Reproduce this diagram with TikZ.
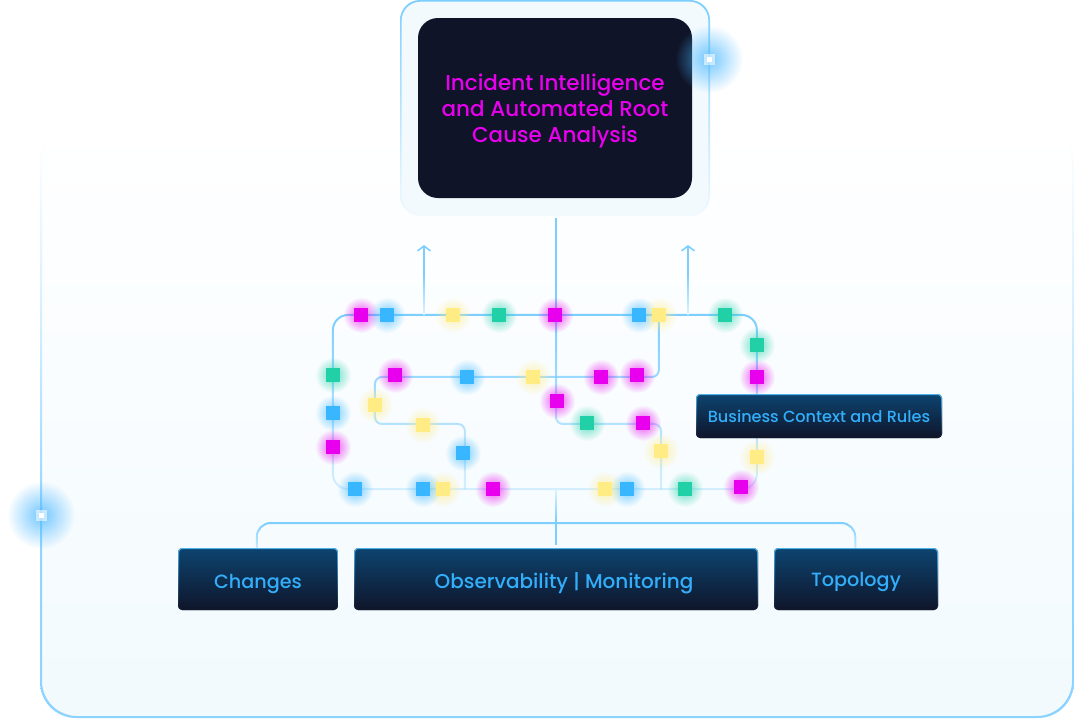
\documentclass[tikz,border=0pt]{standalone}
\usepackage{fontspec}
\setmainfont{Poppins Medium}
\usetikzlibrary{fadings,arrows.meta,calc,backgrounds}
\definecolor{lineblue}{HTML}{7CCEFF}
\definecolor{palelink}{HTML}{D8F1FF}
\definecolor{panelfill}{HTML}{F2FAFE}
\definecolor{darkbox}{HTML}{0F1428}
\definecolor{boxtop}{HTML}{0D4470}
\definecolor{boxbot}{HTML}{0F152A}
\definecolor{boxedge}{HTML}{4DB2EC}
\definecolor{labelblue}{HTML}{33AEFA}
\definecolor{sqmag}{HTML}{E800EE}
\definecolor{sqblue}{HTML}{38B6FF}
\definecolor{sqyel}{HTML}{FFEC85}
\definecolor{sqgrn}{HTML}{22D0A8}
\definecolor{glowblue}{HTML}{4DB8FF}
\tikzfading[name=softglow, inner color=transparent!30, outer color=transparent!100]
\tikzfading[name=bigglow, inner color=transparent!22, outer color=transparent!100]
\tikzfading[name=netfade, top color=transparent!0, bottom color=transparent!72]
\tikzfading[name=uppernet, top color=transparent!0, bottom color=transparent!65]
\pgfdeclareverticalshading{ringshade}{100bp}{color(0bp)=(lineblue!88); color(25bp)=(lineblue!88); color(42bp)=(lineblue!85); color(58bp)=(lineblue!35); color(74bp)=(white); color(100bp)=(white)}
\pgfdeclarelayer{panel}
\pgfdeclarelayer{wires}
\pgfdeclarelayer{glows}
\pgfsetlayers{panel,wires,glows,main}
\tikzset{
  wire/.style={draw=lineblue, line width=2pt},
  sqnode/.style={minimum size=14pt, inner sep=0pt, outer sep=0pt, fill=#1},
  tagbox/.style={rounded corners=4pt, inner sep=0pt, outer sep=0pt, anchor=north west,
     top color=boxtop, bottom color=boxbot,
     text=labelblue, font=\fontsize{19.2}{24}\selectfont},
  arrowtip/.style={-{Straight Barb[length=5pt,width=13pt,line width=1.5pt]}}
}
\newcommand{\sqr}[4]{%
  \begin{pgfonlayer}{glows}
    \fill[#2, path fading=softglow] (#3,#4) circle[radius=18pt];
  \end{pgfonlayer}
  \node[sqnode=#2] (#1) at (#3,#4) {};}
\newcommand{\gradwire}[4]{%
  \foreach \i in {0,...,11}{%
    \pgfmathsetmacro{\ta}{\i/12}\pgfmathsetmacro{\tb}{(\i+1)/12}\pgfmathsetmacro{\pc}{100*\i/11}%
    \draw[draw={#4!\pc!#3}, line width=2pt] ($(#1)!\ta!(#2)$) -- ($(#1)!\tb!(#2)$);}}
\newcommand{\edgering}[1]{%
  \shade[top color=boxedge, bottom color=boxbot, even odd rule]
    [rounded corners=4pt] (#1.north west) rectangle (#1.south east)
    [rounded corners=3.2pt] ($(#1.north west)+(1,1)$) rectangle ($(#1.south east)+(-1,-1)$);}
\begin{document}
\begin{tikzpicture}[x=1pt,y=-1pt]
\useasboundingbox (0,0) rectangle (1074,718);
% outer panel
\begin{pgfonlayer}{panel}
  \shade[top color=white, bottom color=panelfill, rounded corners=36pt] (41,125) rectangle (1073,717);
  \shade[shading=ringshade, even odd rule]
     [rounded corners=36pt] (40,125) rectangle (1074,718)
     [rounded corners=35pt] (42,127) rectangle (1072,716);
\end{pgfonlayer}
% title
\shade[rounded corners=20pt, top color=panelfill, bottom color=panelfill] (400.5,0.5) rectangle (709.5,215.5);
\shade[top color=lineblue, middle color=lineblue, bottom color=panelfill, even odd rule]
   [rounded corners=20pt] (400,0) rectangle (710,216)
   [rounded corners=19pt] (401.6,1.6) rectangle (708.4,214.4);
\node[fill=darkbox, rounded corners=20pt, minimum width=274pt, minimum height=180pt, inner sep=0pt, outer sep=0pt,
      text=sqmag, align=center, font=\fontsize{21.5}{26}\selectfont] (title) at (555,108)
      {\rule{0pt}{23pt}Incident Intelligence\\and Automated Root\\Cause Analysis};
% boxes
\node[tagbox, minimum width=160pt, minimum height=62pt, text height=23pt, text depth=5pt] (changes) at (178,548) {Changes};
\node[tagbox, minimum width=404pt, minimum height=62pt, text height=23pt, text depth=5pt, font=\fontsize{20}{24}\selectfont] (obs) at (354,548) {\hspace*{16pt}Observability | Monitoring};
\node[tagbox, minimum width=164pt, minimum height=62pt, text height=21pt, text depth=7pt] (topo) at (774,548) {Topology};
\node[tagbox, minimum width=246pt, minimum height=44pt, font=\fontsize{16.1}{20}\selectfont] (biz) at (696,394) {Business Context and Rules};
\edgering{changes}\edgering{obs}\edgering{topo}\edgering{biz}
% squares
\sqr{a1}{sqmag}{361}{315}\sqr{a2}{sqblue}{387}{315}\sqr{a3}{sqyel}{453}{315}\sqr{a4}{sqgrn}{499}{315}
\sqr{a5}{sqmag}{555}{315}\sqr{a6}{sqblue}{639}{315}\sqr{a7}{sqyel}{659}{315}\sqr{a8}{sqgrn}{725}{315}
\sqr{r1}{sqgrn}{757}{345}\sqr{r2}{sqmag}{757}{377}\sqr{r3}{sqyel}{757}{457}\sqr{r4}{sqmag}{741}{487}
\sqr{b1}{sqgrn}{685}{489}\sqr{b2}{sqblue}{627}{489}\sqr{b3}{sqyel}{605}{489}\sqr{b4}{sqmag}{493}{489}
\sqr{b5}{sqyel}{443}{489}\sqr{b6}{sqblue}{423}{489}\sqr{b7}{sqblue}{355}{489}
\sqr{l1}{sqmag}{333}{447}\sqr{l2}{sqblue}{333}{413}\sqr{l3}{sqgrn}{333}{375}
\sqr{i1}{sqmag}{395}{375}\sqr{i2}{sqblue}{467}{377}\sqr{i3}{sqyel}{533}{377}\sqr{i4}{sqmag}{601}{377}\sqr{i5}{sqmag}{637}{375}
\sqr{i6}{sqyel}{375}{405}\sqr{i7}{sqyel}{423}{425}\sqr{i8}{sqblue}{463}{453}
\sqr{i9}{sqmag}{557}{401}\sqr{i10}{sqgrn}{587}{423}\sqr{i11}{sqmag}{643}{423}\sqr{i12}{sqyel}{661}{451}
% routing points
\coordinate (nw) at (333,315); \coordinate (ne) at (757,315);
\coordinate (se) at (757,489); \coordinate (sw) at (333,489);
\coordinate (ut) at (659,315); \coordinate (ur) at (659,377);
\coordinate (ul) at (375,377); \coordinate (ulb) at (375,424);
\coordinate (um) at (465,424); \coordinate (ub) at (465,489);
\coordinate (vt) at (556,315); \coordinate (vm) at (556,424);
\coordinate (vr) at (661,424); \coordinate (vb) at (661,489);
\coordinate (dn) at (556,489); \coordinate (bus) at (556,523);
\coordinate (obsin) at (556,545);
\coordinate (busl) at (257,523); \coordinate (busr) at (856,523);
\coordinate (cht) at (257,548); \coordinate (tpt) at (856,548);
\coordinate (up1) at (424,315); \coordinate (up1m) at (424,272); \coordinate (up1t) at (424,245);
\coordinate (up2) at (688,315); \coordinate (up2m) at (688,272); \coordinate (up2t) at (688,245);
\coordinate (titlebase) at (556,218);
% wires
\begin{pgfonlayer}{wires}
  \draw[wire, rounded corners=15pt, path fading=netfade] (nw) -- (ne) -- (se) -- (sw) -- cycle;
  \draw[wire, rounded corners=7pt, path fading=netfade] (ut) -- (ur) -- (ul) -- (ulb) -- (um) -- (ub);
  \draw[wire, rounded corners=7pt, path fading=netfade] (vt) -- (vm) -- (vr) -- (vb);
  \draw[wire] (titlebase) -- (vt);
  \gradwire{dn}{bus}{palelink}{lineblue}
  \draw[wire] (bus) -- (obsin);
  \draw[wire, rounded corners=14pt, path fading=uppernet] (cht) -- (busl) -- (busr) -- (tpt);
  \gradwire{up1}{up1m}{palelink}{lineblue}
  \gradwire{up2}{up2m}{palelink}{lineblue}
  \draw[wire, arrowtip] (up1m) -- (up1t);
  \draw[wire, arrowtip] (up2m) -- (up2t);
\end{pgfonlayer}
% sparkles
\fill[glowblue, path fading=bigglow] (709,59) circle[radius=34pt];
\node[fill=white, fill opacity=.55, minimum size=11pt, inner sep=0pt] (spa) at (709,59) {};
\node[fill=white, minimum size=5pt, inner sep=0pt] (spai) at (709,59) {};
\fill[glowblue, path fading=bigglow] (41,515) circle[radius=34pt];
\node[fill=white, fill opacity=.55, minimum size=11pt, inner sep=0pt] (spb) at (41,515) {};
\node[fill=white, minimum size=5pt, inner sep=0pt] (spbi) at (41,515) {};
\end{tikzpicture}
\end{document}
